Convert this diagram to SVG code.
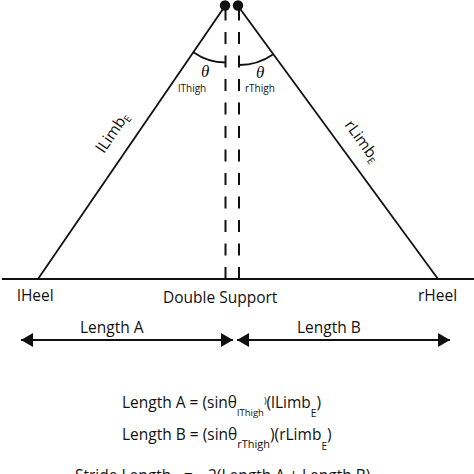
<svg xmlns="http://www.w3.org/2000/svg" width="474" height="474" viewBox="0 0 474 474">
<defs>
<style>
.ln{stroke:#111;stroke-width:1.8;fill:none}
.dash{stroke:#111;stroke-width:2;stroke-dasharray:12 11.5;fill:none}
.t{font-family:"Open Sans","Liberation Sans",sans-serif;fill:#111;font-size:15.5px}
.f{font-family:"Open Sans","Liberation Sans",sans-serif;fill:#111;font-size:15.5px}
.s{font-family:"Open Sans","Liberation Sans",sans-serif;fill:#111;font-size:10px}
.th{font-family:"Liberation Serif",serif;font-style:italic;fill:#111;font-size:17px}
</style>
<marker id="ah" viewBox="0 0 12 14" refX="12" refY="7" markerWidth="12" markerHeight="14" markerUnits="userSpaceOnUse" orient="auto-start-reverse">
<path d="M0,0 L12,7 L0,14 z" fill="#111"/>
</marker>
</defs>
<rect width="474" height="474" fill="#fff"/>
<g id="connectors">
<line class="ln" x1="2" y1="279" x2="474" y2="279"/>
<line class="ln" x1="225" y1="6" x2="38" y2="279"/>
<line class="ln" x1="238" y1="6" x2="438" y2="279"/>
<line class="dash" x1="225.5" y1="8.5" x2="225.5" y2="279"/>
<line class="dash" x1="239" y1="8.5" x2="239" y2="279"/>
<path class="ln" d="M193.4,52.2 A56,56 0 0 0 225.5,62.5"/>
<path class="ln" d="M239,65 A59,59 0 0 0 272.9,54.5"/>
<line class="ln" x1="21" y1="340" x2="233" y2="340" marker-start="url(#ah)" marker-end="url(#ah)"/>
<line class="ln" x1="237" y1="340" x2="450" y2="340" marker-start="url(#ah)" marker-end="url(#ah)"/>
</g>
<g id="hips">
<circle cx="225" cy="5.5" r="5.2" fill="#111"/>
<circle cx="238" cy="5.5" r="5.2" fill="#111"/>
</g>
<g id="angle-left">
<text class="th" x="201" y="77">θ</text>
<text class="s" x="178" y="92" font-size="12">lThigh</text>
</g>
<g id="angle-right">
<text class="th" x="256" y="78">θ</text>
<text class="s" x="245" y="92" font-size="12">rThigh</text>
</g>
<g id="limb-left">
<text class="t" font-size="16" transform="translate(104,154) rotate(-55.6)">lLimb<tspan class="s" dy="3">E</tspan></text>
</g>
<g id="limb-right">
<text class="t" font-size="16" transform="translate(344,125) rotate(53.8)">rLimb<tspan class="s" dy="3">E</tspan></text>
</g>
<g id="heels">
<text class="t" x="17" y="301">lHeel</text>
<text class="t" x="163" y="303">Double Support</text>
<text class="t" x="418" y="301">rHeel</text>
</g>
<g id="lengths">
<text class="t" x="80" y="333" font-size="16">Length A</text>
<text class="t" x="297" y="333" font-size="16">Length B</text>
</g>
<g id="formulas">
<text class="f" x="122" y="408">Length A = (sinθ<tspan font-size="9.5" dy="8">lThigh</tspan><tspan font-size="9" dy="-12">)</tspan><tspan dy="4">(lLimb</tspan><tspan font-size="10" dy="9">E</tspan><tspan dy="-9">)</tspan></text>
<text class="f" x="122" y="440">Length B = (sinθ<tspan font-size="11" dy="8">rThigh</tspan><tspan dy="-8">)(rLimb</tspan><tspan font-size="10" dy="10">E</tspan><tspan dy="-10">)</tspan></text>
<text class="t" x="75" y="481" font-size="16">Stride Length</text>
<text class="t" x="184" y="481" font-size="16">=</text>
<text class="t" x="208" y="481" font-size="16">2(Length A + Length B)</text>
</g>
</svg>
